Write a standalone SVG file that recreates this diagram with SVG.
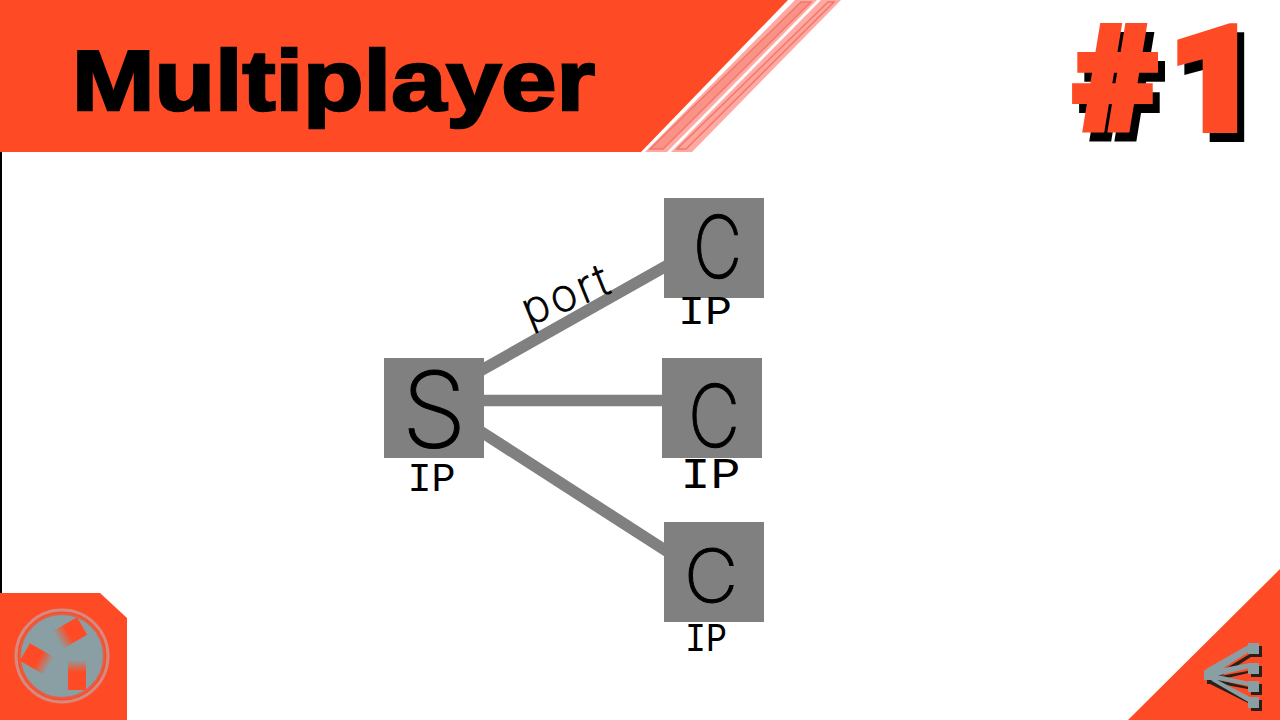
<svg xmlns="http://www.w3.org/2000/svg" width="1280" height="720" viewBox="0 0 1280 720">
<style>
.box{fill:#808080}
.conn{stroke:#808080;stroke-width:11.5;fill:none}
.hand{font-family:"Inter","Open Sans",sans-serif;font-weight:200;fill:#000;stroke:#000;stroke-width:1}
.ip{font-family:"Liberation Mono",monospace;font-size:40px;fill:#000}
.or{fill:#ff4b25}
.stripe{fill:#ffa9a2}
.inner{fill:#fb9287;stroke:#f0786a;stroke-width:1.5}
.head{font-family:"Liberation Sans",Arial,sans-serif;font-weight:700}
.num{font-family:Roboto,"Liberation Sans",sans-serif;font-weight:900;stroke-linejoin:miter}
.hash{font-size:143px;stroke-width:8}
.one{font-size:142px;stroke-width:8}
.ic{fill:#8a9fa3}
.is{fill:#2b1f1c}
</style>
<defs>
<linearGradient id="fx" x1="0" y1="0" x2="1" y2="0"><stop offset="0.55" stop-color="#ff4b25"/><stop offset="1" stop-color="#ff4b25" stop-opacity="0"/></linearGradient>
<linearGradient id="frev" x1="1" y1="0" x2="0" y2="0"><stop offset="0.55" stop-color="#ff4b25"/><stop offset="1" stop-color="#ff4b25" stop-opacity="0"/></linearGradient>
<linearGradient id="fy" x1="0" y1="1" x2="0" y2="0"><stop offset="0.6" stop-color="#ff4b25"/><stop offset="1" stop-color="#ff4b25" stop-opacity="0"/></linearGradient>
</defs>
<rect width="1280" height="720" fill="#fff"/>
<rect id="edge" x="0" y="152" width="2" height="443" fill="#000"/>
<g id="banner">
<polygon class="or" points="0,0 788,0 641,152 0,152"/>
<polygon class="stripe" points="795,0 817,0 667,152 645,152"/>
<polygon class="inner" points="801,2 811,2 663,149 650,149"/>
<polygon class="stripe" points="821,0 841,0 692,152 671,152"/>
<polygon class="inner" points="828,2 834,2 686,149 677,149" style="fill:#ffa39b"/>
<text class="head" x="72" y="110" font-size="85" textLength="523" lengthAdjust="spacingAndGlyphs" fill="#000" stroke="#000" stroke-width="2.5">Multiplayer</text>
</g>
<g id="number">
<text class="num hash" x="1081" y="138" fill="#000" stroke="#000">#</text>
<text class="num one" transform="translate(1176 138) scale(1.1 1)" fill="#000" stroke="#000">1</text>
<text class="num hash" x="1074" y="129" fill="#ff4b25" stroke="#ff4b25">#</text>
<text class="num one" transform="translate(1169 129) scale(1.1 1)" fill="#ff4b25" stroke="#ff4b25">1</text>
</g>
<g id="connectors">
<line class="conn" x1="480" y1="371" x2="668" y2="265"/>
<line class="conn" x1="480" y1="400.5" x2="666" y2="400.5"/>
<line class="conn" x1="480" y1="431" x2="668" y2="552"/>
</g>
<g id="server">
<rect class="box" x="384" y="358" width="100" height="100"/>
<text class="hand" x="434" y="447" font-size="104" text-anchor="middle">S</text>
<text class="ip" x="431.500" y="491" text-anchor="middle">IP</text>
</g>
<g id="client1">
<rect class="box" x="664" y="198" width="100" height="100"/>
<text class="hand" x="693" y="278" font-size="86" textLength="49" lengthAdjust="spacingAndGlyphs">C</text>
<text class="ip" x="705" y="324" text-anchor="middle" textLength="54" lengthAdjust="spacingAndGlyphs">IP</text>
</g>
<g id="client2">
<rect class="box" x="662" y="358" width="100" height="100"/>
<text class="hand" x="688" y="447" font-size="86" textLength="52" lengthAdjust="spacingAndGlyphs">C</text>
<text class="ip" x="710.500" y="488" text-anchor="middle" textLength="60" lengthAdjust="spacingAndGlyphs" style="font-size:44px">IP</text>
</g>
<g id="client3">
<rect class="box" x="664" y="522" width="100" height="100"/>
<text class="hand" x="684" y="602" font-size="73" textLength="54" lengthAdjust="spacingAndGlyphs">C</text>
<text class="ip" x="706" y="651" text-anchor="middle" textLength="42" lengthAdjust="spacingAndGlyphs">IP</text>
</g>
<text id="port" class="hand" font-size="45" style="stroke-width:.9" transform="translate(529 326) rotate(-22)" textLength="90">port</text>
<g id="logo">
<polygon class="or" points="0,593 100,593 127,618 127,720 0,720"/>
<circle cx="62" cy="656" r="46" fill="none" stroke="#d48a7e" stroke-width="3"/>
<circle cx="62" cy="656" r="42" fill="#8a9fa3" stroke="#e0604a" stroke-width="2"/>
<rect x="56" y="623" width="28" height="20" fill="url(#frev)" transform="rotate(-30 70 633)"/>
<rect x="23" y="649" width="28" height="20" fill="url(#fx)" transform="rotate(30 37 659)"/>
<rect x="68" y="660" width="18" height="30" fill="url(#fy)"/>
</g>
<g id="corner">
<polygon class="or" points="1280,569 1280,720 1128,720"/>
<g class="is">
<polygon points="1210,678 1253,652 1254,655 1212,682"/><polygon points="1210,678 1253,670 1253,672 1210,682"/><polygon points="1210,678 1253,688 1253,690 1210,682"/><polygon points="1210,680 1255,704 1254,706 1210,684"/>
<rect x="1207" y="674" width="13" height="10"/><rect x="1251" y="646" width="11" height="11"/><rect x="1251" y="666" width="11" height="11"/><rect x="1251" y="684" width="11" height="11"/><rect x="1251" y="700" width="11" height="11"/>
</g>
<g class="ic">
<polygon points="1206,669 1250,644 1252,650 1212,675"/><polygon points="1208,671 1250,663 1250,668 1212,677"/><polygon points="1208,673 1250,682 1250,686 1212,679"/><polygon points="1208,675 1250,697 1250,703 1212,681"/>
<rect x="1204" y="670" width="13" height="10"/><rect x="1248" y="643" width="11" height="11"/><rect x="1248" y="663" width="11" height="11"/><rect x="1248" y="681" width="11" height="11"/><rect x="1248" y="697" width="11" height="11"/>
</g>
</g>
</svg>
